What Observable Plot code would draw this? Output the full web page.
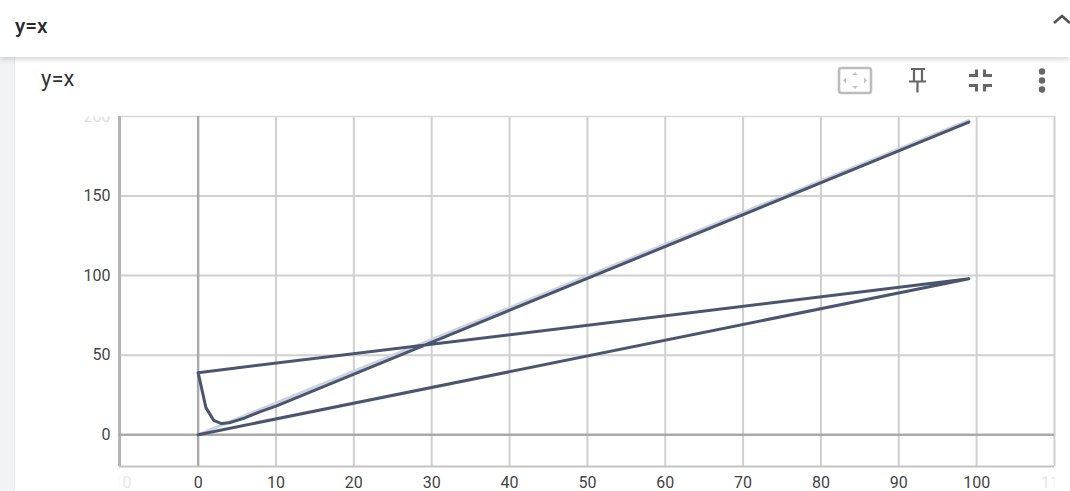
<!DOCTYPE html>
<html><head><meta charset="utf-8">
<script src="https://cdn.jsdelivr.net/npm/d3@7"></script>
<script src="https://cdn.jsdelivr.net/npm/@observablehq/plot@0.6"></script>
<style>
html,body{margin:0;padding:0;background:#fff;width:1070px;height:491px;overflow:hidden;font-family:Roboto,sans-serif}
#strip{position:absolute;left:0;top:57px;width:15px;height:434px;background:#f1f3f6;border-right:1px solid #e8eaed;box-sizing:border-box}
#header{position:absolute;left:0;top:0;width:1070px;height:57px;background:#fff;box-shadow:0 2px 6px rgba(0,0,0,.18);z-index:3}
#title{position:absolute;left:15px;top:14px;font-size:21px;line-height:24px;font-weight:500;color:#2b2b2b}
#sub{position:absolute;left:41px;top:67px;font-size:22px;line-height:24px;color:#333}
#chev{position:absolute;left:1050px;top:11px}
#icons{position:absolute;left:830px;top:60px}
#chart{position:absolute;left:0;top:100px}
svg{display:block}
</style></head><body>
<div id="strip"></div>
<div id="header"><div id="title">y=x</div>
<svg id="chev" width="20" height="20"><path d="M4 12 L12 5 L20 12" fill="none" stroke="#555" stroke-width="2.6"/></svg></div>
<div id="sub">y=x</div>
<svg id="icons" width="225" height="40">
<rect x="9" y="8" width="32" height="25" rx="2.5" fill="none" stroke="#bdbdbd" stroke-width="2.6"/>
<path d="M25 12l-3 3h6zM25 29l-3-3h6zM13 20.5l3-3v6zM37 20.5l-3-3v6z" fill="#c4c4c4"/>
<path d="M81 9h14M84 9v12M92 9v12M79 21.500h17M87.500 21.500v11" fill="none" stroke="#666" stroke-width="2.200"/>
<path d="M139 15.500h7.500v-6M162 15.500h-7.500v-6M139 25.500h7.500v6M162 25.500h-7.500v6" fill="none" stroke="#666" stroke-width="3"/>
<circle cx="212" cy="11.500" r="3.200" fill="#666"/><circle cx="212" cy="20.500" r="3.200" fill="#666"/><circle cx="212" cy="29.500" r="3.200" fill="#666"/>
</svg>
<div id="chart"></div>
<script>
const lineX = [0, 99, 0, 1, 2, 3, 4, 5, 6, 8, 10, 99];
const lineY = [0, 98, 39, 17, 9, 7, 7.5, 9, 10.5, 14.5, 18, 196.5];
const bandX = [0, 99];
const bandY = [0, 197.5];
const xTicks = [0, 10, 20, 30, 40, 50, 60, 70, 80, 90, 100];
const yTicks = [0, 50, 100, 150];
const xFaded = [-10, 110];
const yFaded = [200];
const xDomain = [-10.1, 110];
const yDomain = [-20, 200];

const line = lineX.map((x, i) => ({x, y: lineY[i]}));
const band = bandX.map((x, i) => ({x, y: bandY[i]}));
const tickFont = {fontSize: 16, fontFamily: "Roboto"};

const plot = Plot.plot({
  width: 1070, height: 391,
  marginLeft: 119, marginRight: 16, marginTop: 16, marginBottom: 25,
  style: {background: "transparent", fontFamily: "Roboto"},
  x: {domain: xDomain},
  y: {domain: yDomain},
  marks: [
    Plot.ruleX([...xTicks.filter(d => d !== 0), 110], {stroke: "#d0d0d0", strokeWidth: 2, strokeOpacity: 1}),
    Plot.ruleY([50, 100, 150], {stroke: "#d0d0d0", strokeWidth: 2, strokeOpacity: 1}),
    Plot.ruleY([200], {stroke: "#d8d8d8", strokeWidth: 1.500, strokeOpacity: 1}),
    Plot.ruleY([-20], {stroke: "#c4c4c4", strokeWidth: 2, strokeOpacity: 1}),
    Plot.ruleX([-10.100], {stroke: "#b4b4b4", strokeWidth: 3, strokeOpacity: 1}),
    Plot.ruleX([0], {stroke: "#aaaaaa", strokeWidth: 2.500, strokeOpacity: 1}),
    Plot.ruleY([0], {stroke: "#aaaaaa", strokeWidth: 2.500, strokeOpacity: 1}),
    Plot.line(band, {x: "x", y: "y", stroke: "#ccd2de", strokeWidth: 3}),
    Plot.line(line, {x: "x", y: "y", stroke: "#4a566f", strokeWidth: 3, curve: "linear", strokeLinejoin: "round"}),
    Plot.axisX(xTicks, {anchor: "bottom", tickSize: 0, tickPadding: 10, label: null, color: "#444", ...tickFont}),
    Plot.axisY(yTicks, {anchor: "left", tickSize: 0, tickPadding: 9, label: null, color: "#444", ...tickFont}),
    Plot.axisX(xFaded, {anchor: "bottom", tickSize: 0, tickPadding: 10, label: null, color: "#e6e6e6", ariaLabel: "faded-x", tickFormat: d => String(d), ...tickFont}),
    Plot.axisY(yFaded, {anchor: "left", tickSize: 0, tickPadding: 9, label: null, color: "#dcdcdc", ariaLabel: "faded-y", ...tickFont})
  ]
});

// The faded outermost labels are cut off at the edges of the plot frame.
const sx = plot.scale("x"), sy = plot.scale("y");
const svg = d3.select(plot);
const defs = svg.append("defs");
const left = sx.apply(xDomain[0]), right = sx.apply(xDomain[1]), top_ = sy.apply(yDomain[1]);
defs.append("clipPath").attr("id", "xClip").append("rect")
  .attr("x", left).attr("y", 0).attr("width", right - left).attr("height", 391);
defs.append("clipPath").attr("id", "yClip").append("rect")
  .attr("x", 0).attr("y", top_).attr("width", 1070).attr("height", 391 - top_);
svg.selectAll("g[aria-label^='faded-x']").attr("clip-path", "url(#xClip)");
svg.selectAll("g[aria-label^='faded-y']").attr("clip-path", "url(#yClip)");
document.getElementById("chart").append(plot);
</script>
</body></html>
